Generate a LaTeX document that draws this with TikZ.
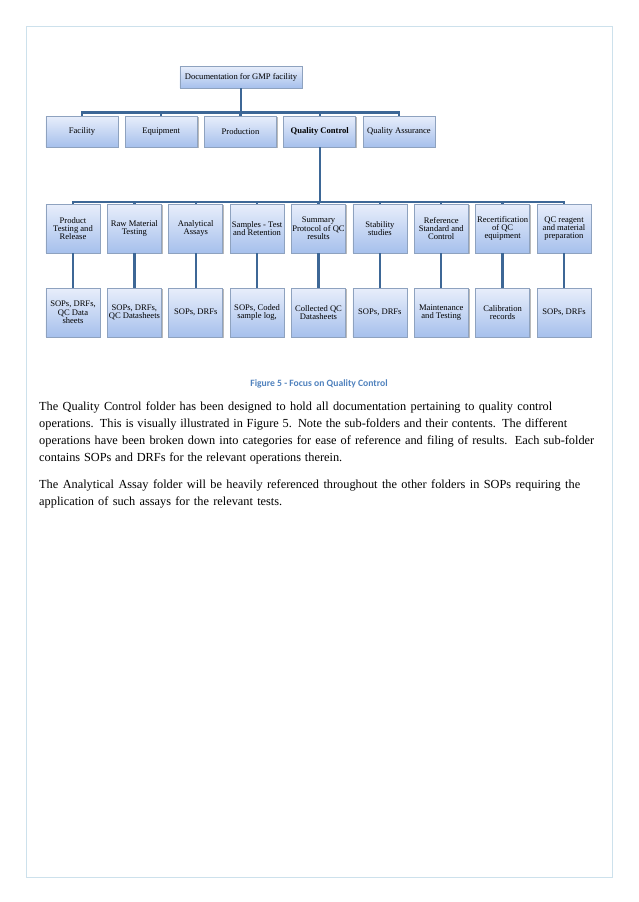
\documentclass[tikz,border=0pt]{standalone}
\usepackage{fontspec}
\setmainfont{Liberation Serif}
\newfontfamily\capfont{Carlito}
\usetikzlibrary{shadows}
\definecolor{boxtop}{HTML}{E8EEFB}
\definecolor{boxbot}{HTML}{A6C0EC}
\definecolor{boxline}{HTML}{8EA2BF}
\definecolor{connc}{HTML}{3D6796}
\definecolor{pageline}{HTML}{CDE1EC}
\definecolor{capc}{HTML}{4F81BD}
\tikzset{
  box/.style={draw=boxline, line width=0.5pt, top color=boxtop, bottom color=boxbot,
    drop shadow={shadow xshift=1.3pt, shadow yshift=-1.3pt, fill=black!60, opacity=0.45},
    font=\fontsize{8}{7.8}\selectfont, align=center, inner sep=0pt},
  topbox/.style={box, minimum width=113.9pt, minimum height=20.5pt},
  midbox/.style={box, minimum width=67.2pt, minimum height=28.9pt},
  subbox/.style={box, minimum width=50.4pt, minimum height=45.7pt},
  conn/.style={draw=connc, line width=2.2pt},
  bodyline/.style={anchor=base west, inner sep=0pt, font=\fontsize{11.5}{13}\selectfont},
}
\begin{document}
\begin{tikzpicture}[x=0.9333pt, y=-0.9333pt]
\useasboundingbox (0,0) rectangle (638,902);
\draw[pageline, line width=0.8pt] (26,26) rectangle (612,877);

% top node
\node[topbox] (top) at (241,77) {Documentation for GMP facility};
% second row
\node[midbox] (m1) at (82,131.5) {Facility};
\node[midbox] (m2) at (161.25,131.5) {Equipment};
\node[midbox] (m3) at (240.5,131.5) {Production};
\node[midbox] (m4) at (319.75,131.5) {\textbf{Quality Control}};
\node[midbox] (m5) at (399,131.5) {Quality Assurance};
\coordinate (b1) at (241,112.5);
% third row
\node[subbox] (s1) at (73,228.5) {Product\\Testing and\\Release};
\node[subbox] (s2) at (134.4,228.5) {Raw Material\\Testing};
\node[subbox] (s3) at (195.75,228.5) {Analytical\\Assays};
\node[subbox] (s4) at (257.1,228.5) {Samples - Test\\and Retention};
\node[subbox] (s5) at (318.5,228.5) {Summary\\Protocol of QC\\results};
\node[subbox] (s6) at (379.9,228.5) {Stability\\studies};
\node[subbox] (s7) at (441.25,228.5) {Reference\\Standard and\\Control};
\node[subbox] (s8) at (502.6,228.5) {Recertification\\of QC\\equipment};
\node[subbox] (s9) at (564,228.5) {QC reagent\\and material\\preparation};
\coordinate (b2) at (319.75,202);
% fourth row
\node[subbox] (d1) at (73,312.5) {SOPs, DRFs,\\QC Data\\sheets};
\node[subbox] (d2) at (134.4,312.5) {SOPs, DRFs,\\QC Datasheets};
\node[subbox] (d3) at (195.75,312.5) {SOPs, DRFs};
\node[subbox] (d4) at (257.1,312.5) {SOPs, Coded\\sample log,};
\node[subbox] (d5) at (318.5,312.5) {Collected QC\\Datasheets};
\node[subbox] (d6) at (379.9,312.5) {SOPs, DRFs};
\node[subbox] (d7) at (441.25,312.5) {Maintenance\\and Testing};
\node[subbox] (d8) at (502.6,312.5) {Calibration\\records};
\node[subbox] (d9) at (564,312.5) {SOPs, DRFs};

% connectors
\begin{scope}[on background layer/.style={}]
\draw[conn] (top.south) -- (top.south |- b1);
\draw[conn, line cap=rect] (m1.north |- b1) -- (m5.north |- b1);
\foreach \i in {1,...,5} { \draw[conn] (m\i.north |- b1) -- (m\i.north); }
\draw[conn] (m4.south) -- (m4.south |- b2);
\draw[conn, line cap=rect] (s1.north |- b2) -- (s9.north |- b2);
\foreach \i in {1,...,9} {
  \draw[conn] (s\i.north |- b2) -- (s\i.north);
  \draw[conn] (s\i.south) -- (d\i.north);
}
\end{scope}

% caption
\node[anchor=base, inner sep=0pt, font=\capfont\bfseries\fontsize{9}{11}\selectfont, text=capc] (cap) at (319,386) {Figure 5 - Focus on Quality Control};

% body text
\node[bodyline] (l1) at (39,410) {\makebox[478.8pt][s]{The Quality Control folder has been designed to hold all documentation pertaining to quality control}};
\node[bodyline] (l2) at (39,427) {\makebox[492.8pt][s]{operations. This is visually illustrated in Figure 5. Note the sub-folders and their contents. The different}};
\node[bodyline] (l3) at (39,444) {\makebox[518pt][s]{operations have been broken down into categories for ease of reference and filing of results. Each sub-folder}};
\node[bodyline] (l4) at (39,461) {\makebox[282.8pt][s]{contains SOPs and DRFs for the relevant operations therein.}};
\node[bodyline] (l5) at (39,488) {\makebox[504.9pt][s]{The Analytical Assay folder will be heavily referenced throughout the other folders in SOPs requiring the}};
\node[bodyline] (l6) at (39,505) {\makebox[226.8pt][s]{application of such assays for the relevant tests.}};
\end{tikzpicture}
\end{document}
